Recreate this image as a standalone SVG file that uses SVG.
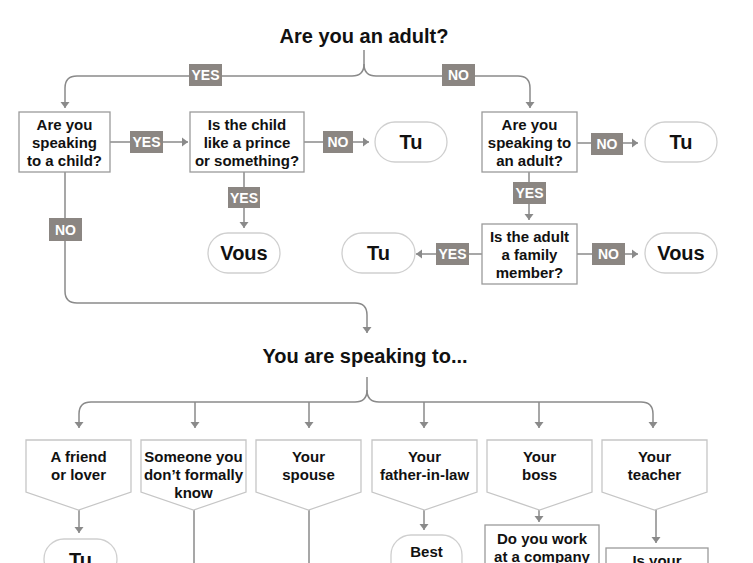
<svg xmlns="http://www.w3.org/2000/svg" width="753" height="563" viewBox="0 0 753 563">
<style>
text{font-family:"Liberation Sans",Arial,sans-serif;font-weight:bold;text-anchor:middle;fill:#111}
.title{font-size:20px}
.q{font-size:15px}
.pt{font-size:20px}
.lt{font-size:14px;fill:#fff}
.box{fill:#fff;stroke:#9a9a9a;stroke-width:1.3}
.pill{fill:#fff;stroke:#cfcfcf;stroke-width:1.3}
.pent{fill:#fff;stroke:#c6c6c6;stroke-width:1.3}
.lab{fill:#8b8682}
.c{fill:none;stroke:#8a8a8a;stroke-width:1.5}
.ca{fill:none;stroke:#8a8a8a;stroke-width:1.5;marker-end:url(#ah)}
</style>
<defs>
<marker id="ah" viewBox="0 0 6 10" refX="6" refY="5" markerWidth="6" markerHeight="10" markerUnits="userSpaceOnUse" orient="auto">
<path d="M0,0.5 L6,5 L0,9.5 Z" fill="#8a8a8a"/>
</marker>
</defs>

<g id="connectors">
<path class="ca" d="M364,50 V64 Q364,76 352,76 H77 Q65,76 65,88 V108"/>
<path class="ca" d="M364,64 Q364,76 376,76 H518 Q530,76 530,88 V108"/>
<path class="ca" d="M110,142 H188"/>
<path class="ca" d="M304,142 H369"/>
<path class="ca" d="M244,172 V228"/>
<path class="ca" d="M65,172 V291 Q65,303 77,303 H355 Q367,303 367,315 V333"/>
<path class="ca" d="M577,143 H638"/>
<path class="ca" d="M529,172 V220"/>
<path class="ca" d="M482,254 H416"/>
<path class="ca" d="M577,254 H638"/>
<path class="ca" d="M367,377 V390 Q367,402 355,402 H91 Q79,402 79,414 V428"/>
<path class="ca" d="M367,390 Q367,402 379,402 H641 Q653,402 653,414 V428"/>
<path class="ca" d="M195,402 V428"/>
<path class="ca" d="M309,402 V428"/>
<path class="ca" d="M424,402 V428"/>
<path class="ca" d="M539,402 V428"/>
<path class="ca" d="M79,510 V533"/>
<path class="c" d="M194,510 V570"/>
<path class="c" d="M309,510 V570"/>
<path class="ca" d="M424,510 V530"/>
<path class="ca" d="M539,510 V522"/>
<path class="ca" d="M656,510 V543"/>
</g>

<g id="labels">
<rect class="lab" x="189" y="64" width="33" height="22"/><text class="lt" x="205.5" y="80">YES</text>
<rect class="lab" x="442" y="64" width="33" height="22"/><text class="lt" x="458.5" y="80">NO</text>
<rect class="lab" x="130" y="131" width="33" height="22"/><text class="lt" x="146.5" y="147">YES</text>
<rect class="lab" x="323" y="131" width="30" height="22"/><text class="lt" x="338" y="147">NO</text>
<rect class="lab" x="228" y="187" width="32" height="21"/><text class="lt" x="244" y="202.5">YES</text>
<rect class="lab" x="49" y="218" width="33" height="23"/><text class="lt" x="65.5" y="234.5">NO</text>
<rect class="lab" x="591" y="133" width="32" height="22"/><text class="lt" x="607" y="149">NO</text>
<rect class="lab" x="513" y="182" width="33" height="22"/><text class="lt" x="529.5" y="198">YES</text>
<rect class="lab" x="436" y="243" width="33" height="22"/><text class="lt" x="452.5" y="259">YES</text>
<rect class="lab" x="592" y="243" width="33" height="22"/><text class="lt" x="608.5" y="259">NO</text>
</g>

<g id="title-adult"><text class="title" x="364" y="43">Are you an adult?</text></g>

<g id="q-child">
<rect class="box" x="19" y="112" width="91" height="60"/>
<text class="q" x="64.5" y="130">Are you</text>
<text class="q" x="64.5" y="148">speaking</text>
<text class="q" x="64.5" y="166">to a child?</text>
</g>
<g id="q-prince">
<rect class="box" x="190" y="112" width="114" height="60"/>
<text class="q" x="247" y="130">Is the child</text>
<text class="q" x="247" y="148">like a prince</text>
<text class="q" x="247" y="166">or something?</text>
</g>
<g id="tu-1"><rect class="pill" x="375" y="122" width="72" height="40" rx="20"/><text class="pt" x="411" y="149">Tu</text></g>
<g id="vous-1"><rect class="pill" x="208" y="233" width="72" height="40" rx="20"/><text class="pt" x="244" y="260">Vous</text></g>

<g id="q-adult">
<rect class="box" x="482" y="112" width="95" height="60"/>
<text class="q" x="529.5" y="130">Are you</text>
<text class="q" x="529.5" y="148">speaking to</text>
<text class="q" x="529.5" y="166">an adult?</text>
</g>
<g id="tu-2"><rect class="pill" x="645" y="122" width="72" height="40" rx="20"/><text class="pt" x="681" y="149">Tu</text></g>
<g id="q-family">
<rect class="box" x="482" y="224" width="95" height="60"/>
<text class="q" x="529.5" y="242">Is the adult</text>
<text class="q" x="529.5" y="260">a family</text>
<text class="q" x="529.5" y="278">member?</text>
</g>
<g id="tu-3"><rect class="pill" x="342" y="233" width="73" height="40" rx="20"/><text class="pt" x="378.5" y="260">Tu</text></g>
<g id="vous-2"><rect class="pill" x="645" y="233" width="72" height="40" rx="20"/><text class="pt" x="681" y="260">Vous</text></g>

<g id="title-speaking"><text class="title" x="365" y="363">You are speaking to...</text></g>

<g id="c-friend">
<path class="pent" d="M26,440 H131 V492 L78.5,510 L26,492 Z"/>
<text class="q" x="78.5" y="462">A friend</text>
<text class="q" x="78.5" y="480">or lover</text>
</g>
<g id="c-stranger">
<path class="pent" d="M141,440 H246 V492 L193.5,510 L141,492 Z"/>
<text class="q" x="193.5" y="462">Someone you</text>
<text class="q" x="193.5" y="480">don’t formally</text>
<text class="q" x="193.5" y="498">know</text>
</g>
<g id="c-spouse">
<path class="pent" d="M256,440 H361 V492 L308.5,510 L256,492 Z"/>
<text class="q" x="308.5" y="462">Your</text>
<text class="q" x="308.5" y="480">spouse</text>
</g>
<g id="c-father">
<path class="pent" d="M372,440 H477 V492 L424.5,510 L372,492 Z"/>
<text class="q" x="424.5" y="462">Your</text>
<text class="q" x="424.5" y="480">father-in-law</text>
</g>
<g id="c-boss">
<path class="pent" d="M487,440 H592 V492 L539.5,510 L487,492 Z"/>
<text class="q" x="539.5" y="462">Your</text>
<text class="q" x="539.5" y="480">boss</text>
</g>
<g id="c-teacher">
<path class="pent" d="M602,440 H707 V492 L654.5,510 L602,492 Z"/>
<text class="q" x="654.5" y="462">Your</text>
<text class="q" x="654.5" y="480">teacher</text>
</g>

<g id="tu-4"><rect class="pill" x="44" y="539" width="73" height="40" rx="20"/><text class="pt" x="80.5" y="567">Tu</text></g>
<g id="best"><rect class="pill" x="391" y="535" width="71" height="50" rx="20"/><text class="q" x="426.5" y="557">Best</text></g>
<g id="q-company">
<rect class="box" x="485" y="525" width="114" height="50"/>
<text class="q" x="542" y="544">Do you work</text>
<text class="q" x="542" y="562">at a company</text>
</g>
<g id="q-teacher">
<rect class="box" x="606" y="548" width="102" height="30"/>
<text class="q" x="657" y="566">Is your</text>
</g>
</svg>
